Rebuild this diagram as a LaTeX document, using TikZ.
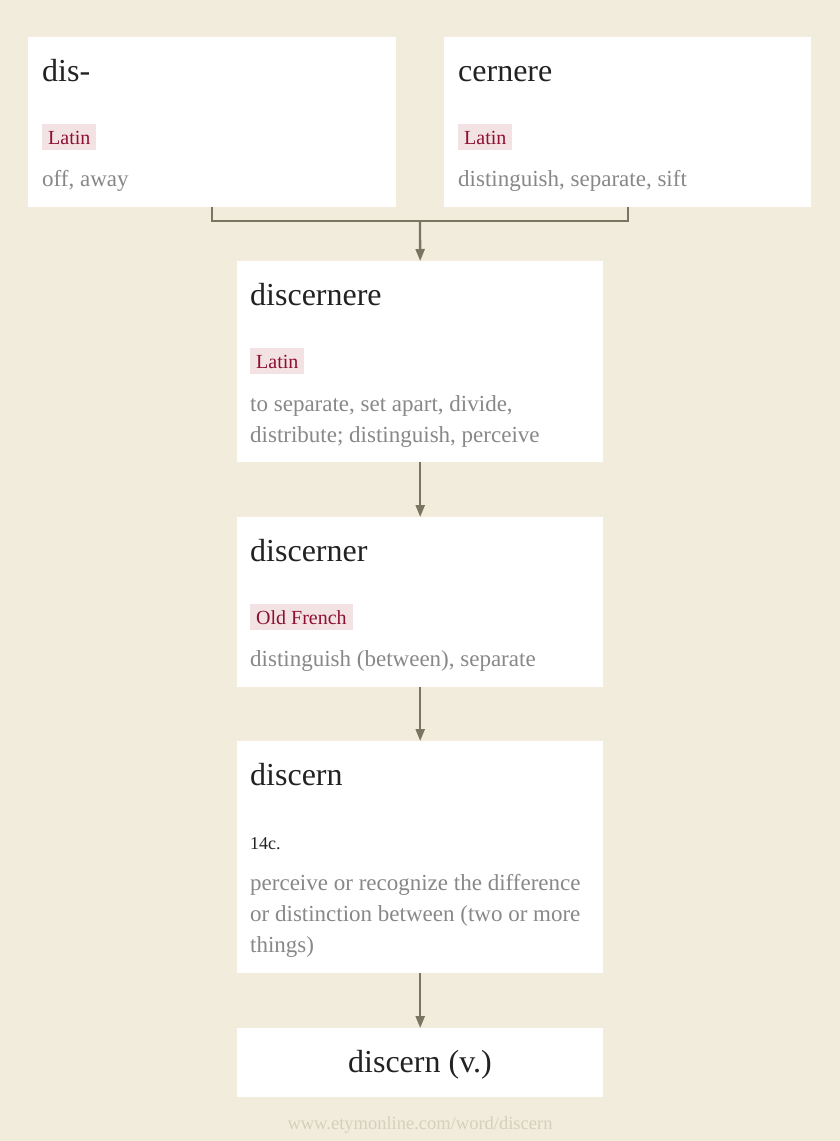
\documentclass[tikz,border=0pt]{standalone}
\usepackage{fontspec}
\setmainfont{Liberation Serif}
\usetikzlibrary{arrows.meta}
\definecolor{bgc}{RGB}{242,236,220}
\definecolor{titlec}{RGB}{34,34,34}
\definecolor{glossc}{RGB}{136,136,136}
\definecolor{tagbg}{RGB}{243,226,228}
\definecolor{tagfg}{RGB}{140,16,48}
\definecolor{linec}{RGB}{122,116,98}
\definecolor{footc}{RGB}{214,207,190}
\tikzset{
  box/.style={fill=white, draw=none, anchor=north west, inner sep=0pt},
  title/.style={anchor=base west, inner sep=0pt, text=titlec, font=\fontsize{32}{36}\selectfont},
  tag/.style={anchor=base west, fill=tagbg, text=tagfg, inner xsep=6pt, inner ysep=3pt, text height=17pt, text depth=3pt, font=\fontsize{20}{24}\selectfont},
  gloss/.style={anchor=base west, inner sep=0pt, text=glossc, font=\fontsize{23}{31}\selectfont},
  datec/.style={anchor=base west, inner sep=0pt, text=titlec, font=\fontsize{18}{22}\selectfont},
  conn/.style={draw=linec, line width=2.3pt},
  arr/.style={conn, -{Triangle[length=12pt,width=9pt]}},
}
\begin{document}
\begin{tikzpicture}[x=1pt,y=-1pt]
\fill[bgc] (0,0) rectangle (840,1141);
\useasboundingbox (0,0) rectangle (840,1141);
% boxes
\node[box, minimum width=368pt, minimum height=170pt] (dis) at (28,37) {};
\node[box, minimum width=367pt, minimum height=170pt] (cer) at (444,37) {};
\node[box, minimum width=366pt, minimum height=201pt] (dre) at (237,261) {};
\node[box, minimum width=366pt, minimum height=170pt] (drf) at (237,517) {};
\node[box, minimum width=366pt, minimum height=232pt] (dcn) at (237,741) {};
\node[box, minimum width=366pt, minimum height=69pt] (dv) at (237,1028) {};
% dis-
\node[title] (dist) at (42,81) {dis-};
\node[tag] (dislang) at (42,144) {Latin};
\node[gloss] (disg) at (42,186) {off, away};
% cernere
\node[title] (cert) at (458,81) {cernere};
\node[tag] (cerlang) at (458,144) {Latin};
\node[gloss] (cerg) at (458,186) {distinguish, separate, sift};
% discernere
\node[title] (dret) at (250,305) {discernere};
\node[tag] (drelang) at (250,368) {Latin};
\node[gloss] (dreg1) at (250,411) {to separate, set apart, divide,};
\node[gloss] (dreg2) at (250,442) {distribute; distinguish, perceive};
% discerner
\node[title] (drft) at (250,561) {discerner};
\node[tag] (drflang) at (250,624) {Old French};
\node[gloss] (drfg) at (250,666) {distinguish (between), separate};
% discern
\node[title] (dcnt) at (250,785) {discern};
\node[datec] (dcnd) at (250,849) {14c.};
\node[gloss] (dcng1) at (250,890) {perceive or recognize the difference};
\node[gloss] (dcng2) at (250,921) {or distinction between (two or more};
\node[gloss] (dcng3) at (250,952) {things)};
% discern (v.)
\node[anchor=base, inner sep=0pt, text=titlec, font=\fontsize{32}{36}\selectfont] (dvt) at (420,1072) {discern (v.)};
% footer
\node[anchor=base, inner sep=0pt, text=footc, font=\fontsize{18.5}{22}\selectfont] (foot) at (420,1129) {www.etymonline.com/word/discern};
% connectors
\coordinate (j) at (420,221);
\draw[conn] (dis.south) |- (j) -| (cer.south);
\draw[arr] (j) -- (dre.north);
\draw[arr] (dre.south) -- (drf.north);
\draw[arr] (drf.south) -- (dcn.north);
\draw[arr] (dcn.south) -- (dv.north);
\end{tikzpicture}
\end{document}
